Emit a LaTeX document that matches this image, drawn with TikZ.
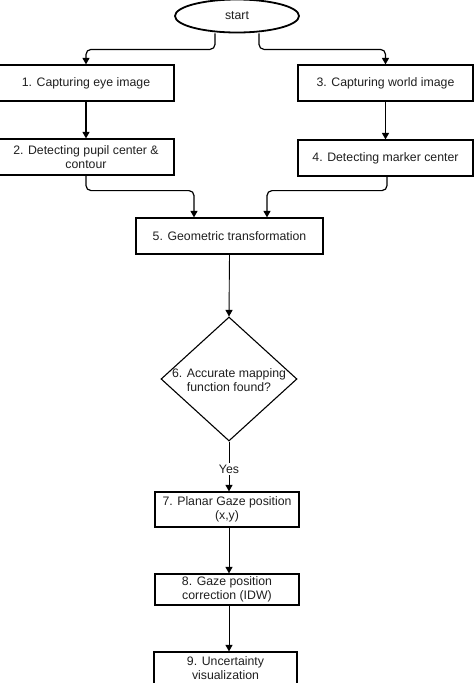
\documentclass[tikz,border=0pt]{standalone}
\usepackage{fontspec}
\setmainfont{Liberation Sans}
\usetikzlibrary{shapes.geometric,arrows.meta}
\begin{document}
\begin{tikzpicture}[x=1pt,y=-1pt,
  every node/.style={font=\fontsize{12.3}{14.3}\selectfont, text=black!88},
  box/.style={draw, line width=1.2pt, rectangle, inner sep=0pt, align=center},
  arr/.style={draw, line width=1.2pt, -{Triangle[length=6.5pt,width=7pt]}},
  thinarr/.style={draw, line width=0.9pt, -{Triangle[length=6.5pt,width=7pt]}},
  elbow/.style={arr, rounded corners=5pt}]
\useasboundingbox (0,0) rectangle (474,683);
\node[draw, ellipse, line width=1.8pt, minimum width=124pt, minimum height=33pt, inner sep=0pt] (start) at (237,16) {start};
\node[box, minimum width=176pt, minimum height=36pt] (b1) at (86,83) {1. Capturing eye image};
\node[box, minimum width=175pt, minimum height=36pt] (b3) at (385.5,83) {3. Capturing world image};
\node[box, minimum width=176pt, minimum height=36pt] (b2) at (86,157) {2. Detecting pupil center \&\\contour};
\node[box, minimum width=175pt, minimum height=36pt] (b4) at (385.5,158) {4. Detecting marker center};
\node[box, minimum width=187pt, minimum height=36pt] (b5) at (229.5,236) {5. Geometric transformation};
\node[draw, diamond, line width=1.1pt, minimum width=136pt, minimum height=124pt, inner sep=0pt] (d6) at (229,379) {};
\node[align=center] (t6) at (229,380) {6. Accurate mapping\\function found?};
\node[box, minimum width=144pt, minimum height=35pt] (b7) at (227,509.5) {7. Planar Gaze position\\(x,y)};
\node[box, minimum width=144pt, minimum height=31pt] (b8) at (227,589.5) {8. Gaze position\\correction (IDW)};
\node[box, minimum width=143pt, minimum height=32pt] (b9) at (225.5,668) {9. Uncertainty\\visualization};

\draw[elbow] ([xshift=-22pt]start.south) -- ++(0,16) -| (b1.north);
\draw[elbow] ([xshift=22pt]start.south) -- ++(0,16) -| (b3.north);
\draw[arr] (b1) -- (b2);
\draw[arr] (b3) -- (b4);
\draw[elbow] (b2.south) -- ++(0,15) -| ([xshift=-35.5pt]b5.north);
\draw[elbow] ([xshift=1.5pt]b4.south) -- ++(0,14) -| ([xshift=37.5pt]b5.north);
\draw[thinarr] (b5.south) -- (d6.north);
\draw[thinarr] (d6.south) -- node[pos=0.55, fill=white, inner sep=1.5pt] (yes) {Yes} (d6.south |- b7.north);
\draw[thinarr] (d6.south |- b7.south) -- (d6.south |- b8.north);
\draw[thinarr] (d6.south |- b8.south) -- (d6.south |- b9.north);
\end{tikzpicture}
\end{document}
